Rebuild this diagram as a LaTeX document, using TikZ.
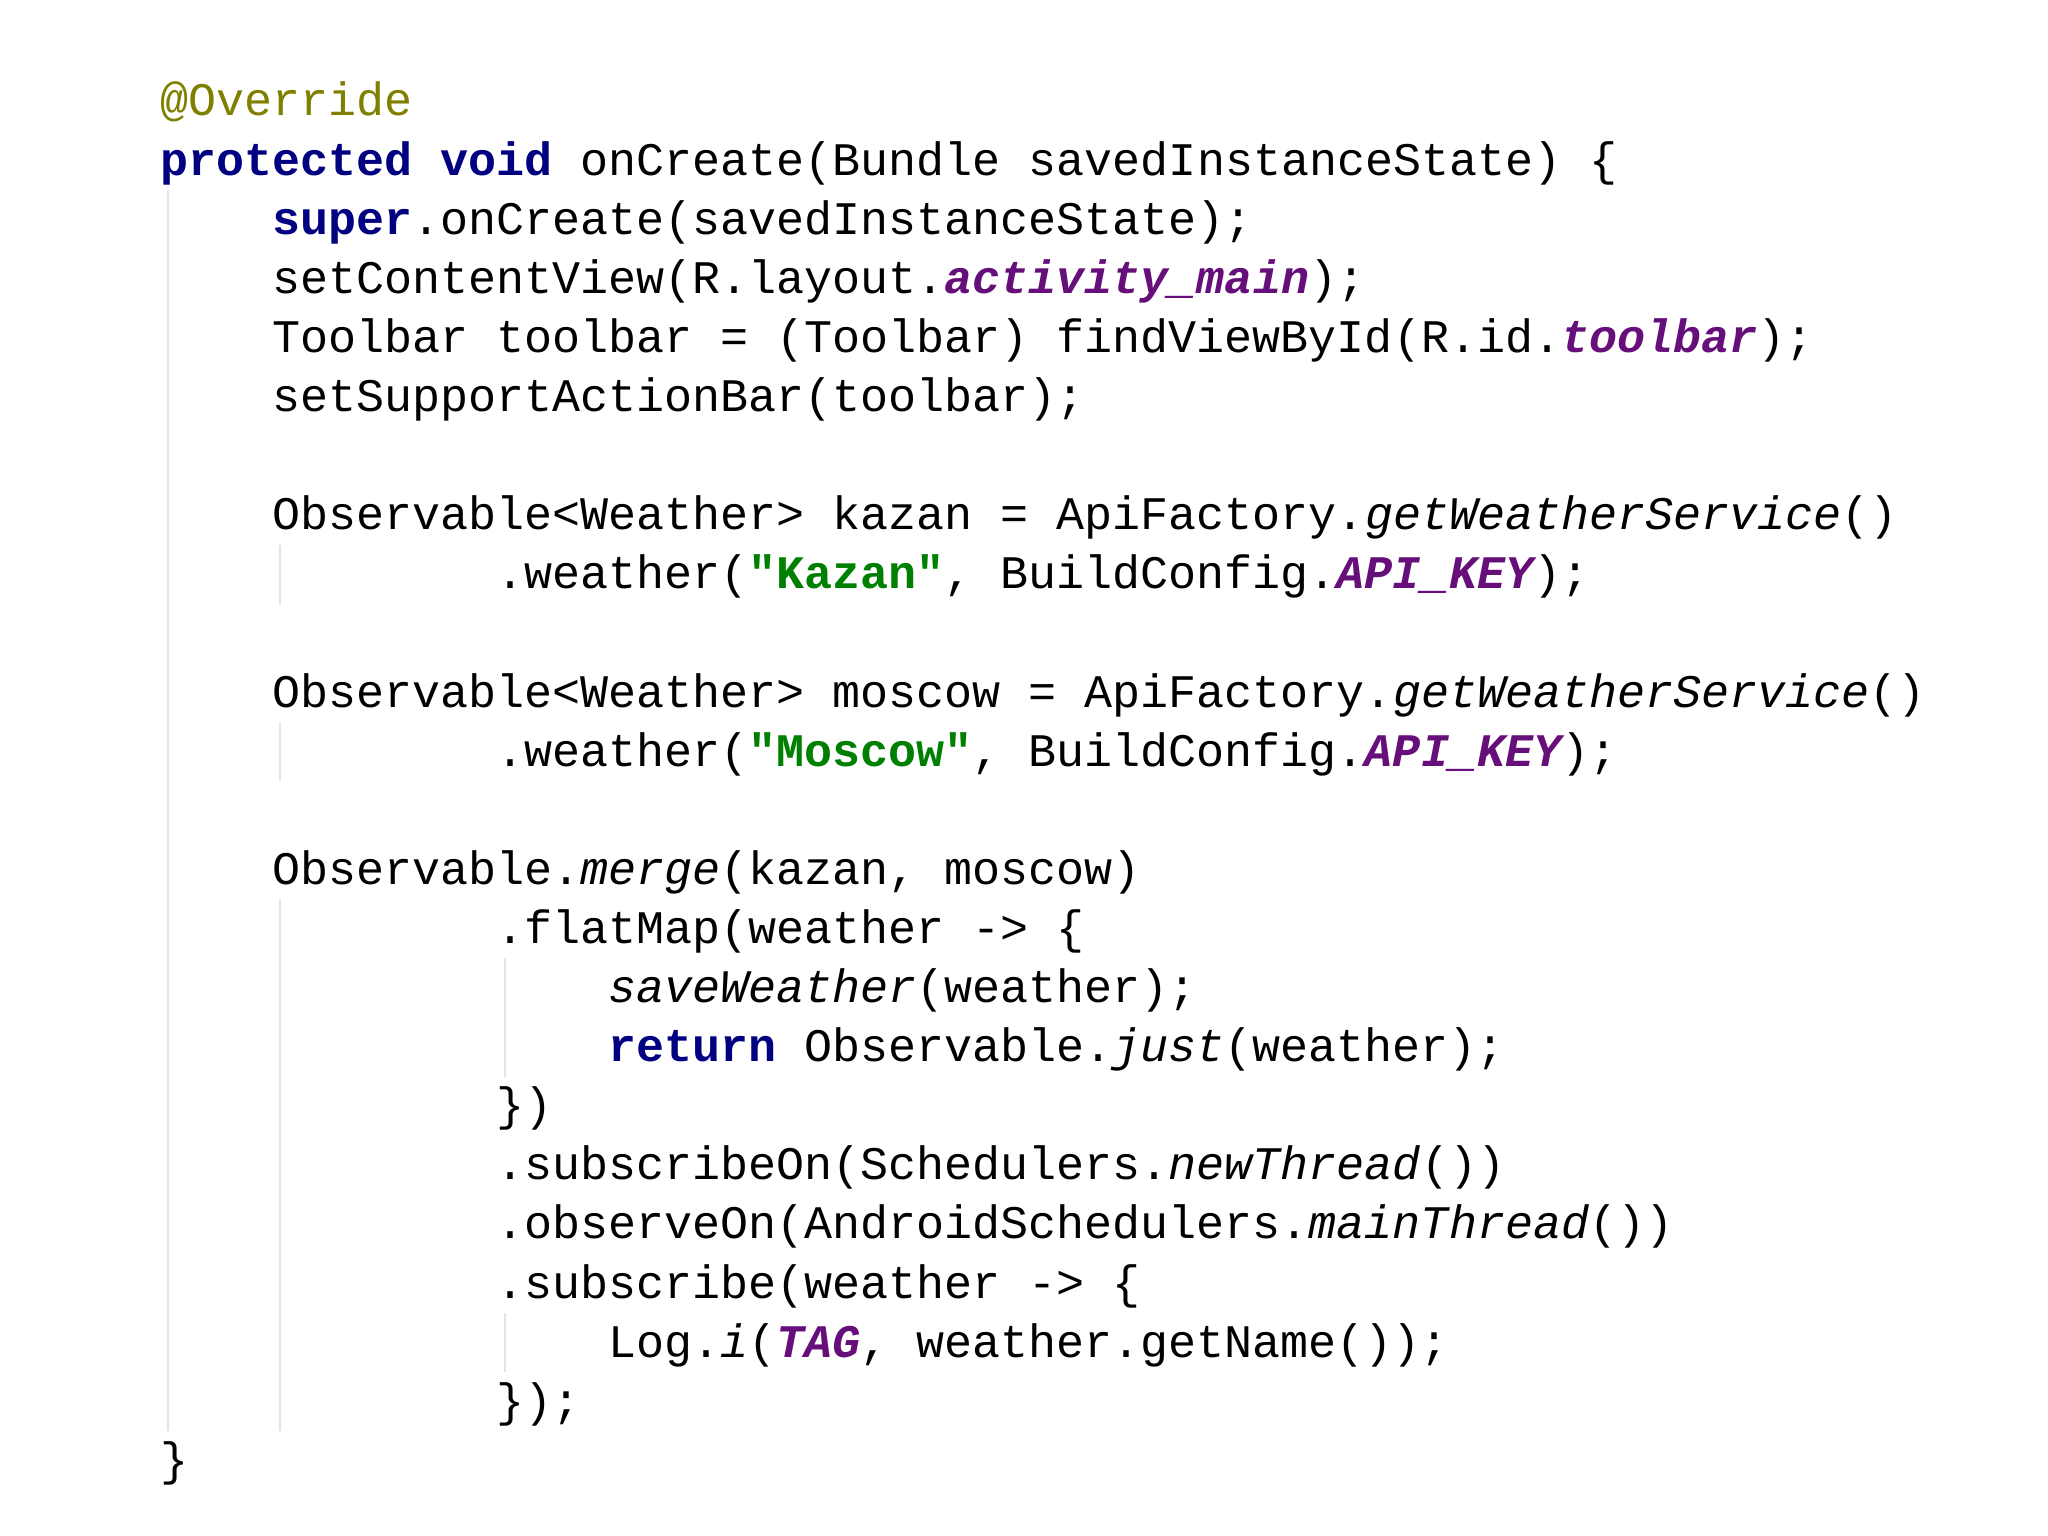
\documentclass[tikz,border=0pt]{standalone}
\usepackage{fontspec}
\setmonofont{Liberation Mono}
\definecolor{kwc}{HTML}{000080}
\definecolor{anc}{HTML}{808000}
\definecolor{strc}{HTML}{008000}
\definecolor{cstc}{HTML}{660E7A}
\definecolor{guide}{HTML}{E4E4E4}
\newcommand\kw[1]{{\color{kwc}\bfseries #1}}
\newcommand\cst[1]{{\color{cstc}\bfseries\itshape #1}}
\newcommand\str[1]{{\color{strc}\bfseries #1}}
\newcommand\itm[1]{{\itshape #1}}
\begin{document}
\begin{tikzpicture}[x=1pt,y=-1pt,
  codeline/.style={anchor=base west,inner sep=0pt,font=\ttfamily\fontsize{46.7}{50}\selectfont,text=black},
  guideline/.style={draw=guide,line width=2pt}]
\useasboundingbox[fill=white] (0,0) rectangle (2048,1536);
\def\codeln#1#2#3#4{\node[codeline] (#1) at ({160+28.0*#2},{116+59.1*#3}) {#4};}
\codeln{l0}{0}{0}{\color{anc}@Override}
\codeln{l1}{0}{1}{\kw{protected} \kw{void} onCreate(Bundle savedInstanceState) \{}
\codeln{l2}{4}{2}{\kw{super}.onCreate(savedInstanceState);}
\codeln{l3}{4}{3}{setContentView(R.layout.\cst{activity\_main});}
\codeln{l4}{4}{4}{Toolbar toolbar = (Toolbar) findViewById(R.id.\cst{toolbar});}
\codeln{l5}{4}{5}{setSupportActionBar(toolbar);}
\codeln{l7}{4}{7}{Observable<Weather> kazan = ApiFactory.\itm{getWeatherService}()}
\codeln{l8}{12}{8}{.weather(\str{"Kazan"}, BuildConfig.\cst{API\_KEY});}
\codeln{l10}{4}{10}{Observable<Weather> moscow = ApiFactory.\itm{getWeatherService}()}
\codeln{l11}{12}{11}{.weather(\str{"Moscow"}, BuildConfig.\cst{API\_KEY});}
\codeln{l13}{4}{13}{Observable.\itm{merge}(kazan, moscow)}
\codeln{l14}{12}{14}{.flatMap(weather -> \{}
\codeln{l15}{16}{15}{\itm{saveWeather}(weather);}
\codeln{l16}{16}{16}{\kw{return} Observable.\itm{just}(weather);}
\codeln{l17}{12}{17}{\})}
\codeln{l18}{12}{18}{.subscribeOn(Schedulers.\itm{newThread}())}
\codeln{l19}{12}{19}{.observeOn(AndroidSchedulers.\itm{mainThread}())}
\codeln{l20}{12}{20}{.subscribe(weather -> \{}
\codeln{l21}{16}{21}{Log.\itm{i}(\cst{TAG}, weather.getName());}
\codeln{l22}{12}{22}{\});}
\codeln{l23}{0}{23}{\}}
\draw[guideline] (168,190) -- (168,1431);
\draw[guideline] (280,545) -- (280,604);
\draw[guideline] (280,722) -- (280,781);
\draw[guideline] (280,899) -- (280,1431);
\draw[guideline] (505,958) -- (505,1077);
\draw[guideline] (505,1313) -- (505,1372);
\end{tikzpicture}
\end{document}
